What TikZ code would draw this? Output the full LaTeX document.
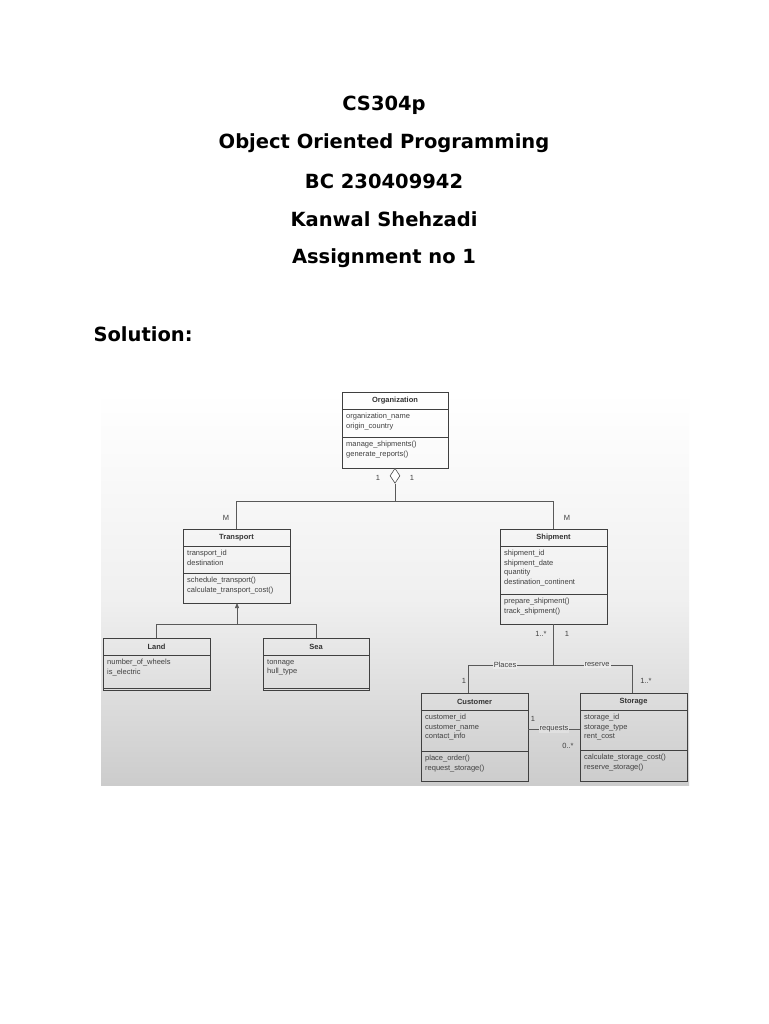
\documentclass[tikz,border=0pt]{standalone}
\usepackage{fontspec}
\setmainfont{DejaVu Sans}
\newfontfamily\umlfont{Liberation Sans}
\usetikzlibrary{arrows.meta,shapes.geometric}
\tikzset{
 ttl/.style={font=\bfseries\fontsize{19.5}{23}\selectfont,anchor=center},
 cls/.style={draw=black!75,line width=0.6pt},
 ctitle/.style={font=\umlfont\bfseries\fontsize{7.5}{8.5}\selectfont,text=black!80},
 ctext/.style={font=\umlfont\fontsize{7.5}{9.5}\selectfont,text=black!75,align=left,anchor=north west,inner sep=0pt},
 lbl/.style={font=\umlfont\fontsize{7.5}{8.5}\selectfont,text=black!75,inner sep=1pt},
 conn/.style={draw=black!65,line width=0.7pt}
}
% \umlbox{name}{x1}{y1}{x2}{y2}{title}{div2}{attrs}{ops}
\newcommand{\umlbox}[9]{%
 \draw[cls] (#2,#3) rectangle (#4,#5);
 \coordinate (#1-nw) at (#2,#3);
 \coordinate (#1-se) at (#4,#5);
 \node[ctitle] (#1-t) at ({(#2+#4)/2},{#3+9}) {#6};
 \draw[cls] (#2,{#3+17}) -- (#4,{#3+17});
 \draw[cls] (#2,#7) -- (#4,#7);
 \node[ctext] (#1-a) at ({#2+4},{#3+21}) {#8};
 \node[ctext] (#1-o) at ({#2+4},{#7+4}) {#9};
}
\begin{document}
\begin{tikzpicture}[x=1pt,y=-1pt]
\useasboundingbox (0,0) rectangle (768,1024);
\fill[white] (0,0) rectangle (768,1024);
\node[ttl] (t1) at (384,105) {CS304p};
\node[ttl] (t2) at (384,143) {Object Oriented Programming};
\node[ttl] (t3) at (384,181) {BC 230409942};
\node[ttl] (t4) at (384,219) {Kanwal Shehzadi};
\node[ttl] (t5) at (384,258) {Assignment no 1};
\node[ttl,anchor=west] (sol) at (90,334) {Solution:};
% diagram background
\shade[top color=white,bottom color=black!6] (101,392) rectangle (689,600);
\shade[top color=black!6,bottom color=black!20] (101,600) rectangle (689,785);
\umlbox{org}{342}{392}{448}{468}{Organization}{437}{organization\_name\\origin\_country}{manage\_shipments()\\generate\_reports()}
\umlbox{tr}{183}{529}{290}{603}{Transport}{573}{transport\_id\\destination}{schedule\_transport()\\calculate\_transport\_cost()}
\umlbox{sh}{500}{529}{607}{624}{Shipment}{594}{shipment\_id\\shipment\_date\\quantity\\destination\_continent}{prepare\_shipment()\\track\_shipment()}
\umlbox{land}{103}{638}{210}{690}{Land}{688}{number\_of\_wheels\\is\_electric}{}
\umlbox{sea}{263}{638}{369}{690}{Sea}{688}{tonnage\\hull\_type}{}
\umlbox{cu}{421}{693}{528}{781}{Customer}{751}{customer\_id\\customer\_name\\contact\_info}{place\_order()\\request\_storage()}
\umlbox{st}{580}{693}{687}{781}{Storage}{750}{storage\_id\\storage\_type\\rent\_cost}{calculate\_storage\_cost()\\reserve\_storage()}
% aggregation
\node[diamond,draw=black!70,fill=white,line width=0.6pt,minimum width=10pt,minimum height=15pt,inner sep=0pt,anchor=north] (dia) at (395,468) {};
\coordinate (jA) at (395,501);
\coordinate (jL) at (236,501);
\coordinate (jR) at (553,501);
\draw[conn] (dia.south) -- (jA);
\draw[conn] (jL) -- (jR);
\draw[conn] (jL) -- (236,529);
\draw[conn] (jR) -- (553,529);
\node[lbl] (m1) at (378,478) {1};
\node[lbl] (m2) at (412,478) {1};
\node[lbl] (m3) at (226,518) {M};
\node[lbl] (m4) at (567,518) {M};
% inheritance
\coordinate (iJ) at (237,624);
\draw[conn,-{Triangle[length=5pt,width=4pt]}] (iJ) -- (237,603);
\draw[conn] (156,638) -- (156,624) -- (316,624) -- (316,638);
% shipment associations
\coordinate (sJ) at (553,665);
\draw[conn] (553,624) -- (sJ);
\draw[conn] (468,693) -- (468,665) -- (632,665) -- (632,693);
\node[lbl,fill=black!8] (pl) at (505,665) {Places};
\node[lbl,fill=black!8] (rs) at (597,665) {reserve};
\node[lbl] (m5) at (541,634) {1..*};
\node[lbl] (m6) at (567,634) {1};
\node[lbl] (m7) at (464,681) {1};
\node[lbl] (m8) at (646,681) {1..*};
% requests
\draw[conn] (528,729) -- (580,729);
\node[lbl,fill=black!12] (rq) at (554,729) {requests};
\node[lbl] (m9) at (533,719) {1};
\node[lbl] (m10) at (568,746) {0..*};
\end{tikzpicture}
\end{document}
